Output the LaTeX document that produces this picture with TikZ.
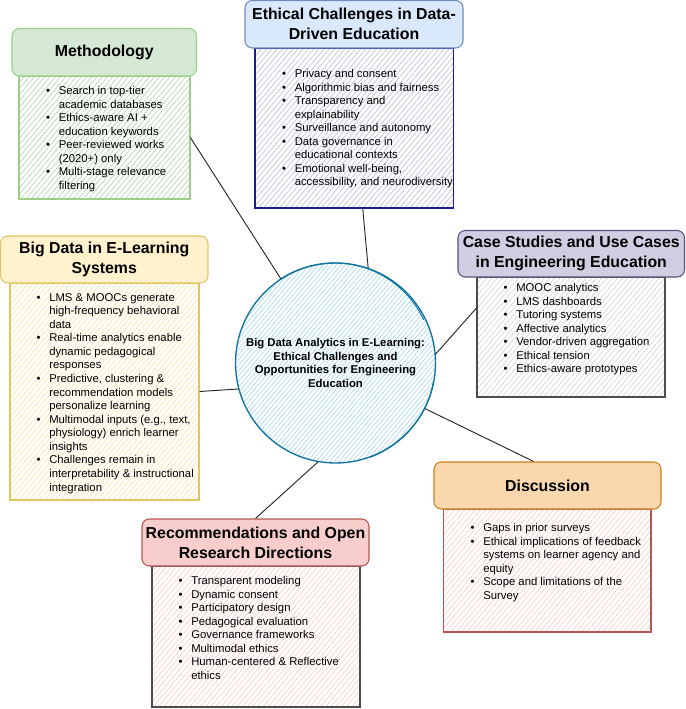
\documentclass[tikz,border=0pt]{standalone}
\usepackage{fontspec}
\setmainfont{Liberation Sans}
\usetikzlibrary{fit, patterns.meta}
\definecolor{greenTop}{HTML}{D5E8D4}
\definecolor{greenEdge}{HTML}{9CCF85}
\definecolor{greenHatch}{HTML}{B9D6B4}
\definecolor{blueTop}{HTML}{DAE8FC}
\definecolor{blueEdge}{HTML}{6C8EBF}
\definecolor{navyEdge}{HTML}{1A1A9C}
\definecolor{navyHatch}{HTML}{C4C4D8}
\definecolor{purpleTop}{HTML}{D0CEE2}
\definecolor{purpleEdge}{HTML}{56517E}
\definecolor{greyHatch}{HTML}{D8D8D8}
\definecolor{yellowTop}{HTML}{FFF2CC}
\definecolor{yellowEdge}{HTML}{E3C55F}
\definecolor{yellowHatch}{HTML}{FAE7A8}
\definecolor{orangeTop}{HTML}{FAD7AC}
\definecolor{orangeEdge}{HTML}{CF7F1B}
\definecolor{redTop}{HTML}{F8CECC}
\definecolor{redEdge}{HTML}{B85450}
\definecolor{redHatch}{HTML}{F9CFCD}
\definecolor{hubEdge}{HTML}{10739E}
\definecolor{hubHatch}{HTML}{B1DDF0}
\newcommand{\bul}{\llap{\textbullet\hspace{6.5pt}}}
\tikzset{
    topic/.style n args={4}{draw=#1, fill=#2, line width=0.8pt, rounded corners=5.5pt, inner sep=0pt,
        minimum width=#3*0.75pt, minimum height=#4*0.75pt,
        align=center, font=\fontsize{11.9pt}{15pt}\bfseries\selectfont},
    detail/.style 2 args={draw=#1, line width=0.9pt, inner sep=0pt,
        pattern={Lines[angle=50,distance=3pt,line width=0.55pt]}, pattern color=#2},
    itemlist/.style={anchor=north west, inner sep=0pt, align=left,
        font=\fontsize{8.48pt}{10.17pt}\selectfont},
    link/.style={draw=black!85, line width=0.7pt},
    hubline/.style={draw=hubEdge, line width=0.7pt}
}

\begin{document}
\begin{tikzpicture}[x=0.75pt,y=-0.75pt]
    \useasboundingbox (0,0) rectangle (685,709);

    \node[detail={greenEdge}{greenHatch}, fit={(19,76) (190,199)}] (methBody) {};
    \node[topic={greenEdge}{greenTop}{184.5}{47.5}] (methTop) at (104.25,52.25) {Methodology};
    \node[itemlist] (methList) at (58.5,86) {\bul Search in top-tier\\academic databases\\\bul Ethics-aware AI +\\education keywords\\\bul Peer-reviewed works\\(2020+) only\\\bul Multi-stage relevance\\filtering};

    \node[detail={navyEdge}{navyHatch}, fit={(255,48) (453.5,208)}] (ethBody) {};
    \node[topic={blueEdge}{blueTop}{218}{47.5}] (ethTop) at (354,24.25) {Ethical Challenges in Data-\\Driven Education};
    \node[itemlist] (ethList) at (294.5,69) {\bul Privacy and consent\\\bul Algorithmic bias and fairness\\\bul Transparency and\\explainability\\\bul Surveillance and autonomy\\\bul Data governance in\\educational contexts\\\bul Emotional well-being,\\accessibility, and neurodiversity};

    \node[detail={black!70}{greyHatch}, fit={(477,277) (665,397)}] (caseBody) {};
    \node[topic={purpleEdge}{purpleTop}{226.5}{46.5}] (caseTop) at (571.25,253.75) {Case Studies and Use Cases\\in Engineering Education};
    \node[itemlist] (caseList) at (516,283) {\bul MOOC analytics\\\bul LMS dashboards\\\bul Tutoring systems\\\bul Affective analytics\\\bul Vendor-driven aggregation\\\bul Ethical tension\\\bul Ethics-aware prototypes};

    \node[detail={yellowEdge}{yellowHatch}, fit={(10,283) (199,500)}] (bigBody) {};
    \node[topic={yellowEdge}{yellowTop}{207.5}{47}] (bigTop) at (104.25,259.5) {Big Data in E-Learning\\Systems};
    \node[itemlist] (bigList) at (49,293) {\bul LMS \& MOOCs generate\\high-frequency behavioral\\data\\\bul Real-time analytics enable\\dynamic pedagogical\\responses\\\bul Predictive, clustering \&\\recommendation models\\personalize learning\\\bul Multimodal inputs (e.g., text,\\physiology) enrich learner\\insights\\\bul Challenges remain in\\interpretability \& instructional\\integration};

    \node[detail={black!70}{redHatch}, fit={(152,566) (360,707)}] (recBody) {};
    \node[topic={redEdge}{redTop}{227}{47}] (recTop) at (255.5,542.5) {Recommendations and Open\\Research Directions};
    \node[itemlist] (recList) at (191,576) {\bul Transparent modeling\\\bul Dynamic consent\\\bul Participatory design\\\bul Pedagogical evaluation\\\bul Governance frameworks\\\bul Multimodal ethics\\\bul Human-centered \& Reflective\\ethics};

    \node[detail={redEdge}{redHatch}, fit={(443.5,509) (651,632)}] (discBody) {};
    \node[topic={orangeEdge}{orangeTop}{227}{47}] (discTop) at (547.5,485.5) {Discussion};
    \node[itemlist] (discList) at (483,523) {\bul Gaps in prior surveys\\\bul Ethical implications of feedback\\systems on learner agency and\\equity\\\bul Scope and limitations of the\\Survey};

    \node[circle, minimum size=150pt, inner sep=0pt, line width=1pt, draw=hubEdge,
        pattern={Lines[angle=50,distance=2.6pt,line width=0.6pt]}, pattern color=hubHatch,
        align=center, font=\fontsize{8.5pt}{10.1pt}\bfseries\selectfont] (hub) at (335.5,363)
        {Big Data Analytics in E-Learning:\\Ethical Challenges and\\Opportunities for Engineering\\Education};
    \draw[hubline] (hub.125) arc[start angle=-125, end angle=-25, radius=98.5];
    \draw[hubline] (hub.-70) arc[start angle=70, end angle=10, radius=99];

    \draw[link] (methBody.east) -- (hub.123);
    \draw[link] (ethBody.-84) -- (hub.71);
    \draw[link] (caseBody.163) -- (hub.5);
    \draw[link] (bigBody.east) -- (hub.195);
    \draw[link] (recTop.north) -- (hub.-100);
    \draw[link] (discTop.120) -- (hub.-27);
\end{tikzpicture}
\end{document}
